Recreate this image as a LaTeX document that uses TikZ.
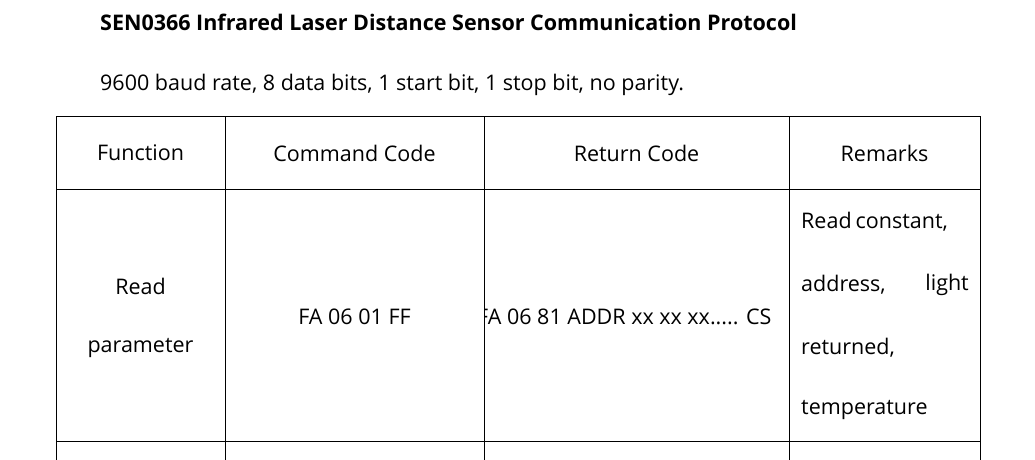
\documentclass[tikz,border=0pt]{standalone}
\usepackage{fontspec}
\setmainfont{Open Sans}
\begin{document}
\begin{tikzpicture}[x=1pt,y=-1pt,
  cell/.style={anchor=center,inner sep=0pt,font=\fontsize{21.5}{25}\selectfont},
  ln/.style={line width=0.9pt}]
\useasboundingbox (0,0) rectangle (1035,460);
\fill[white] (0,0) rectangle (1035,460);
\node[anchor=west,inner sep=0pt,font=\fontsize{21.5}{25}\selectfont\bfseries] (title) at (100,22) {SEN0366 Infrared Laser Distance Sensor Communication Protocol};
\node[anchor=west,inner sep=0pt,font=\fontsize{21.5}{25}\selectfont] (sub) at (100,85) {9600 baud rate, 8 data bits, 1 start bit, 1 stop bit, no parity.};
\foreach \x in {56,225,484,789,980} \draw[ln] (\x,116) -- (\x,460);
\foreach \y in {116,189,441} \draw[ln] (56,\y) -- (980,\y);
\node[cell] (h1) at (140.5,153) {Function};
\node[cell] (h2) at (354.5,153) {Command Code};
\node[cell] (h3) at (636.5,153) {Return Code};
\node[cell] (h4) at (884.5,153) {Remarks};
\node[cell] (r1a) at (140.5,286) {Read};
\node[cell] (r1b) at (140.5,348) {parameter};
\node[cell] (r2) at (354.5,317) {FA 06 01 FF};
\begin{scope}
\clip (485,190) rectangle (788,440);
\node[cell,anchor=west] (r3) at (477,317) {FA 06 81 ADDR xx xx xx..... CS};
\end{scope}
\node[cell,anchor=west] (r4a) at (801,222) {Read\hspace{4pt}constant,};
\node[cell,anchor=west] (r4b) at (801,285) {address,};
\node[cell,anchor=east] (r4c) at (969,285) {light};
\node[cell,anchor=west] (r4d) at (801,348) {returned,};
\node[cell,anchor=west] (r4e) at (801,410) {temperature};
\end{tikzpicture}
\end{document}
